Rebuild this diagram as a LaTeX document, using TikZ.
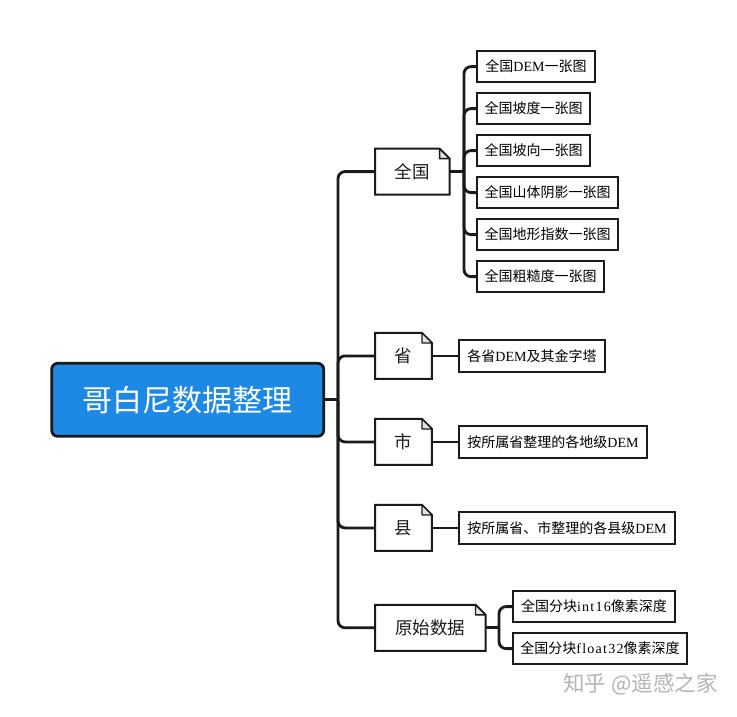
\documentclass[tikz,border=0pt]{standalone}
\usepackage{fontspec}
\setmainfont{Noto Sans CJK SC}
\newfontfamily\ltn{Liberation Serif}
\newfontfamily\ltw[LetterSpace=9,Ligatures=NoCommon]{Liberation Serif}
\newcommand{\en}[1]{{\ltn #1}}
\newcommand{\enw}[1]{{\ltw #1}}
\definecolor{inkc}{HTML}{1A1A1A}
\definecolor{rootblue}{HTML}{1E88E5}
\definecolor{foldc}{HTML}{E4E4E4}
\definecolor{markc}{HTML}{B4B4B4}
\tikzset{
  rootbox/.style={draw=inkc,line width=2.8pt,fill=rootblue,rounded corners=6pt,text=white,inner sep=0pt,
    minimum width=272pt,minimum height=73pt,font=\fontsize{30}{34}\selectfont},
  docbox/.style={inner sep=0pt,minimum height=45.5pt,font=\fontsize{17.5}{20}\selectfont,text=inkc},
  leafbox/.style={draw=inkc,line width=2pt,fill=white,inner sep=0pt,minimum height=31.3pt,
    font=\fontsize{14}{16}\selectfont,text=black},
  docline/.style={draw=inkc,line width=2pt,fill=white,line join=miter},
  foldline/.style={draw=inkc,line width=1.4pt,fill=foldc,line join=round},
  branch/.style={draw=inkc,line width=2.8pt,rounded corners=7pt},
  stem/.style={draw=inkc,line width=2.8pt},
  markbox/.style={inner sep=0pt,text=markc,font=\fontsize{21.5}{24}\selectfont}
}
\newcommand{\foldout}[1]{%
  \draw[docline] (#1.north west) -- ([xshift=-10pt]#1.north east) -- ([yshift=-10pt]#1.north east)
    -- (#1.south east) -- (#1.south west) -- cycle;
  \draw[foldline] ([xshift=-10pt]#1.north east) -- ([xshift=-10pt,yshift=-10pt]#1.north east)
    -- ([yshift=-10pt]#1.north east) -- cycle;
}
\begin{document}
\begin{tikzpicture}[x=1pt,y=-1pt]
\useasboundingbox (0,0) rectangle (737,716);
\begin{scope}[yshift=0.6pt]
% coordinates of the spines
\coordinate (sp) at (338,400.4);
\coordinate (spa) at (464,172.2);
\coordinate (spe) at (499,628.4);

% nodes
\node[rootbox] (root) at (187.7,400.4) {哥白尼数据整理};
\node[docbox,minimum width=74pt] (qg) at (412.4,172.2) {全国};
\node[docbox,minimum width=56.5pt] (sh) at (403.5,356.5) {省};
\node[docbox,minimum width=56.5pt] (si) at (403.5,442.5) {市};
\node[docbox,minimum width=56.5pt] (xi) at (403.5,528.5) {县};
\node[docbox,minimum width=110pt] (ys) at (430.3,628.4) {原始数据};

\node[leafbox,minimum width=117.3pt] (a1) at (536,67.2) {全国\en{DEM}一张图};
\node[leafbox,minimum width=112.3pt] (a2) at (533.5,109.2) {全国坡度一张图};
\node[leafbox,minimum width=112.3pt] (a3) at (533.5,151.2) {全国坡向一张图};
\node[leafbox,minimum width=140.3pt] (a4) at (547.5,193.2) {全国山体阴影一张图};
\node[leafbox,minimum width=140.3pt] (a5) at (547.5,235.2) {全国地形指数一张图};
\node[leafbox,minimum width=126.3pt] (a6) at (540.5,277.2) {全国粗糙度一张图};
\node[leafbox,minimum width=145.5pt] (b1) at (532,356.5) {各省\en{DEM}及其金字塔};
\node[leafbox,minimum width=187.5pt] (c1) at (553,442.5) {按所属省整理的各地级\en{DEM}};
\node[leafbox,minimum width=215.5pt] (d1) at (567,528.5) {按所属省、市整理的各县级\en{DEM}};
\node[leafbox,minimum width=161.5pt] (e1) at (594,607.2) {全国分块\enw{int16}像素深度};
\node[leafbox,minimum width=173.5pt] (e2) at (600,649.2) {全国分块\enw{float32}像素深度};

% connectors
\draw[stem] (root.east) -- (sp);
\draw[branch] (sp) |- (qg.west);
\draw[branch] (sp) |- (sh.west);
\draw[branch] (sp) |- (si.west);
\draw[branch] (sp) |- (xi.west);
\draw[branch] (sp) |- (ys.west);

\draw[stem] (qg.east) -- (spa);
\draw[branch] (spa) |- (a1.west);
\draw[branch] (spa) |- (a2.west);
\draw[branch] (spa) |- (a3.west);
\draw[branch] (spa) |- (a4.west);
\draw[branch] (spa) |- (a5.west);
\draw[branch] (spa) |- (a6.west);

\draw[stem] (sh.east) -- (b1.west);
\draw[stem] (si.east) -- (c1.west);
\draw[stem] (xi.east) -- (d1.west);

\draw[stem] (ys.east) -- (spe);
\draw[branch] (spe) |- (e1.west);
\draw[branch] (spe) |- (e2.west);

% outlines with folded corner, then the labels again on top
\foldout{qg}\foldout{sh}\foldout{si}\foldout{xi}\foldout{ys}
\node[docbox] at (qg.center) {全国};
\node[docbox] at (sh.center) {省};
\node[docbox] at (si.center) {市};
\node[docbox] at (xi.center) {县};
\node[docbox] at (ys.center) {原始数据};

\node[markbox,anchor=center] (wm) at (640.5,684.5) {知乎 @遥感之家};
\end{scope}
\end{tikzpicture}
\end{document}
